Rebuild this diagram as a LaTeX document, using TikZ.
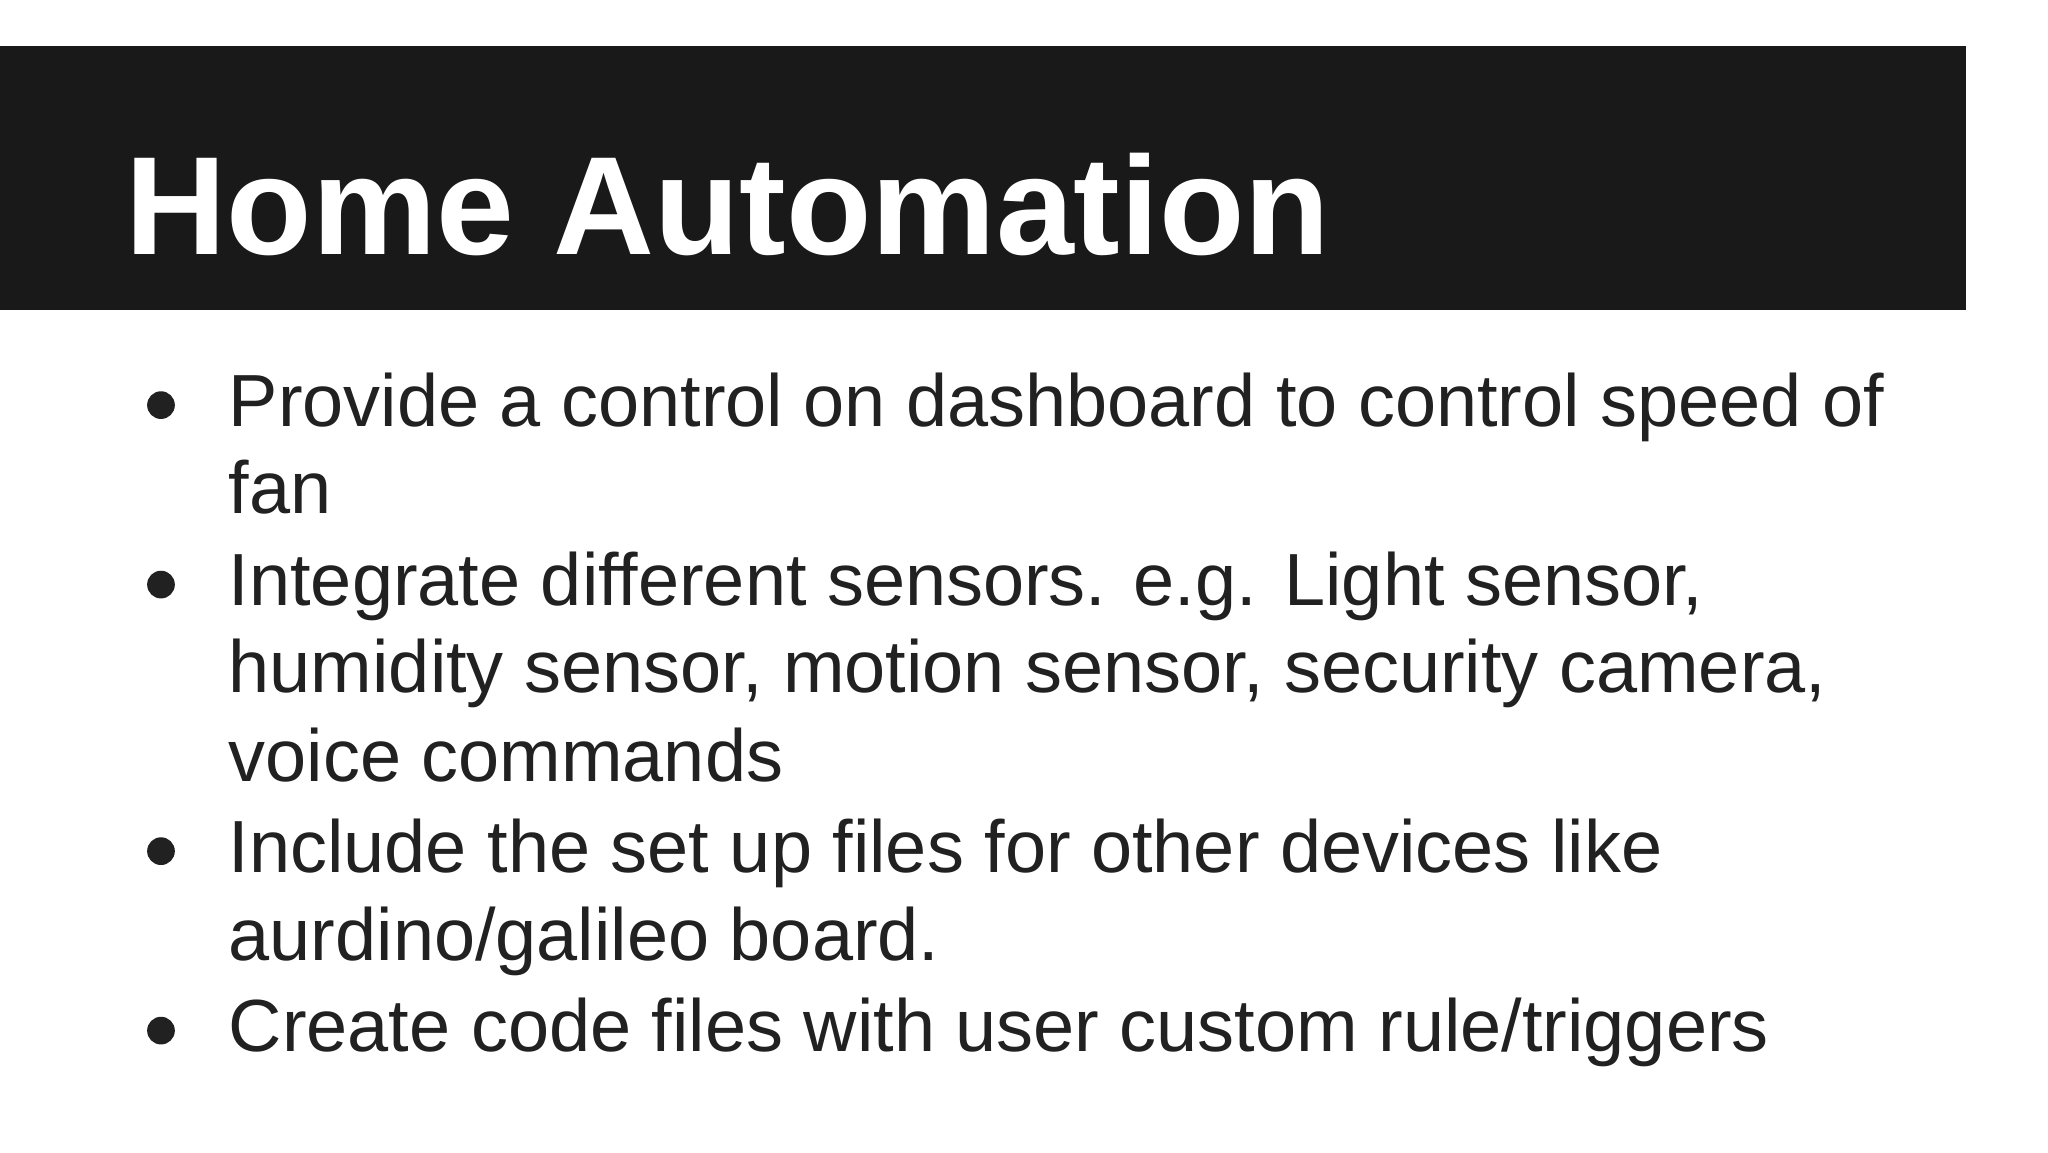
\documentclass[tikz,border=0pt]{standalone}
\usepackage{fontspec}
\setmainfont{Liberation Sans}
\begin{document}
\begin{tikzpicture}[x=0.5pt,y=-0.5pt,
  line/.style={anchor=base west,inner sep=0pt,text=black!87,font=\fontsize{28}{34}\selectfont},
  dot/.style={fill=black!87,draw=none}]
\useasboundingbox (0,0) rectangle (1552,873);
\fill[white] (0,0) rectangle (1552,873);
\fill[black!90] (0,35) rectangle (1490,235);
\node[anchor=base west,inner sep=0pt,text=white,font=\fontsize{53}{60}\selectfont\bfseries] (title) at (95,193) {Home Automation};
\node[line] (l1) at (173,323) {Provide a control on dashboard to control speed of};
\node[line] (l2) at (173,389) {fan};
\node[line] (l3) at (173,459) {Integrate different sensors. e.g. Light sensor,};
\node[line] (l4) at (173,525) {humidity sensor, motion sensor, security camera,};
\node[line] (l5) at (173,592) {voice commands};
\node[line] (l6) at (173,661) {Include the set up files for other devices like};
\node[line] (l7) at (173,728) {aurdino/galileo board.};
\node[line] (l8) at (173,797) {Create code files with user custom rule/triggers};
\foreach \y in {307,443,645,781} \fill[dot] (122,\y) circle (10.5);
\end{tikzpicture}
\end{document}
